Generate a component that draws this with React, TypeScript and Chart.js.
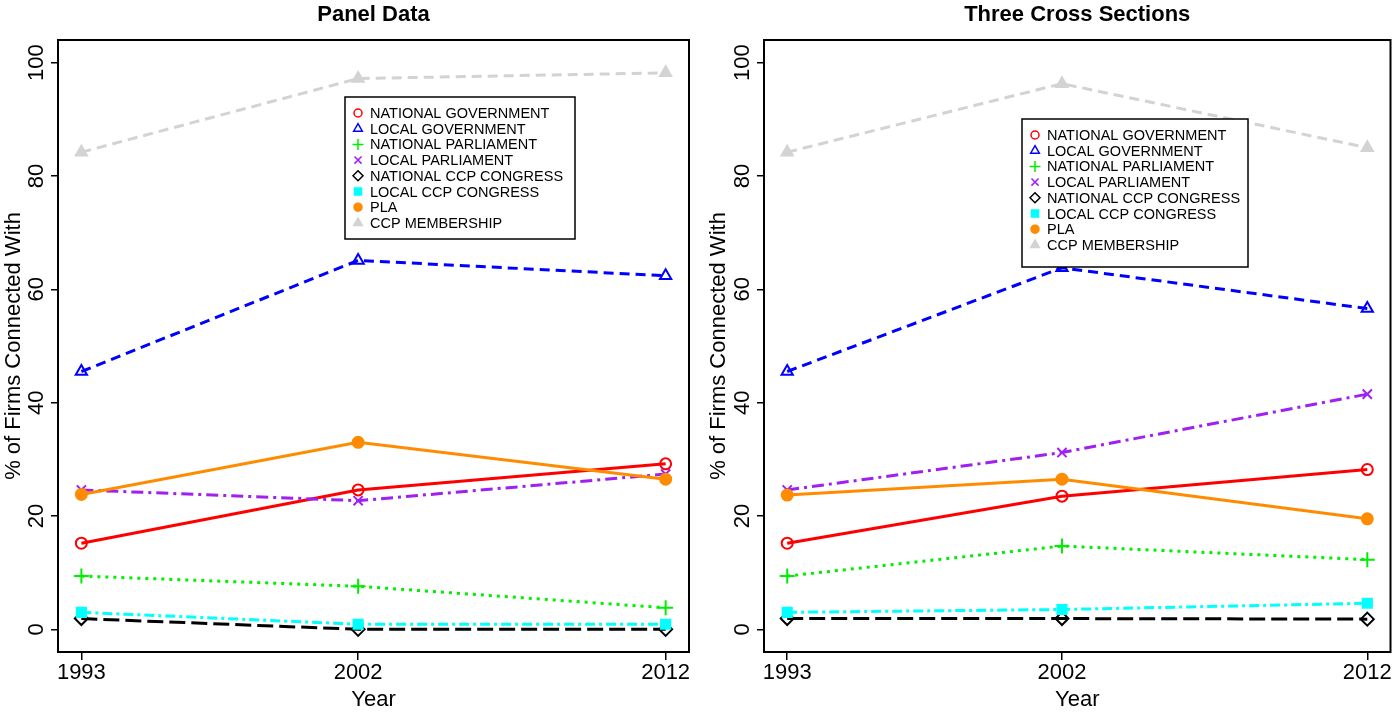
import React, { useEffect, useRef } from 'react';
import { Chart, registerables } from 'chart.js';
import { drawPoint } from 'chart.js/helpers';

Chart.register(...registerables);

// ---------------- DATA ----------------
const YEARS = [1993, 2002, 2012];
const X_TICKS = [1993, 2002, 2012];
const Y_TICKS = [0, 20, 40, 60, 80, 100];

const SERIES_LABELS = [
  'NATIONAL GOVERNMENT',
  'LOCAL GOVERNMENT',
  'NATIONAL PARLIAMENT',
  'LOCAL PARLIAMENT',
  'NATIONAL CCP CONGRESS',
  'LOCAL CCP CONGRESS',
  'PLA',
  'CCP MEMBERSHIP',
];

// Panel Data
const panelNationalGov = [15.2, 24.6, 29.2];
const panelLocalGov = [45.5, 65.1, 62.4];
const panelNationalParl = [9.4, 7.6, 3.8];
const panelLocalParl = [24.6, 22.7, 27.4];
const panelNationalCCP = [1.9, 0.0, 0.0];
const panelLocalCCP = [3.0, 0.9, 0.9];
const panelPLA = [23.8, 33.0, 26.5];
const panelCCPMember = [84.2, 97.2, 98.2];

// Three Cross Sections
const crossNationalGov = [15.2, 23.5, 28.2];
const crossLocalGov = [45.5, 63.8, 56.6];
const crossNationalParl = [9.4, 14.7, 12.3];
const crossLocalParl = [24.6, 31.2, 41.5];
const crossNationalCCP = [1.9, 1.9, 1.8];
const crossLocalCCP = [3.0, 3.5, 4.6];
const crossPLA = [23.7, 26.5, 19.5];
const crossCCPMember = [84.2, 96.3, 85.0];

const PANEL_VALUES = [
  panelNationalGov, panelLocalGov, panelNationalParl, panelLocalParl,
  panelNationalCCP, panelLocalCCP, panelPLA, panelCCPMember,
];
const CROSS_VALUES = [
  crossNationalGov, crossLocalGov, crossNationalParl, crossLocalParl,
  crossNationalCCP, crossLocalCCP, crossPLA, crossCCPMember,
];

// ---------------- STYLES ----------------
const FONT = 'Arial, "Liberation Sans", Helvetica, sans-serif';

const STYLES = [
  { color: '#FF0000', dash: [], point: 'circle', filled: false, r: 5.5, lr: 4 },
  { color: '#0000FF', dash: [10, 6], point: 'triangle', filled: false, r: 6.5, lr: 5 },
  { color: '#00EE00', dash: [3, 5], point: 'cross', filled: false, r: 7.5, lr: 5.5 },
  { color: '#A020F0', dash: [12, 5, 3, 5], point: 'crossRot', filled: false, r: 6.5, lr: 5 },
  { color: '#000000', dash: [16, 6], point: 'rectRot', filled: false, r: 6.5, lr: 5 },
  { color: '#00FFFF', dash: [10, 4, 3, 4], point: 'rect', filled: true, r: 6.5, lr: 5 },
  { color: '#FF8C00', dash: [], point: 'circle', filled: true, r: 5.5, lr: 4 },
  { color: '#D3D3D3', dash: [10, 6], point: 'triangle', filled: true, r: 6.5, lr: 5 },
];

function buildDatasets(values: number[][]) {
  return values.map((arr, i) => {
    const s = STYLES[i];
    return {
      label: SERIES_LABELS[i],
      data: YEARS.map((x, j) => ({ x, y: arr[j] })),
      borderColor: s.color,
      backgroundColor: s.filled ? s.color : 'rgba(0,0,0,0)',
      borderWidth: 3,
      borderDash: s.dash,
      pointStyle: s.point,
      pointRadius: s.r,
      pointBorderWidth: 2,
      pointBackgroundColor: s.filled ? s.color : 'rgba(255,255,255,0)',
      pointBorderColor: s.color,
      tension: 0,
      order: 10 - i,
      _legendRadius: s.lr,
      _filled: s.filled,
    } as any;
  });
}

const framePlugin = {
  id: 'rframe',
  afterDraw(chart: any, _args: any, opts: any) {
    const { ctx, chartArea } = chart;
    const yScale = chart.scales.y;
    const xScale = chart.scales.x;
    ctx.save();
    // box
    ctx.strokeStyle = '#000';
    ctx.lineWidth = 2;
    ctx.setLineDash([]);
    ctx.strokeRect(chartArea.left, chartArea.top, chartArea.right - chartArea.left, chartArea.bottom - chartArea.top);

    // rotated y tick labels
    ctx.fillStyle = '#000';
    ctx.font = `22px ${FONT}`;
    ctx.textAlign = 'center';
    ctx.textBaseline = 'middle';
    for (const t of yScale.ticks) {
      const py = yScale.getPixelForValue(t.value);
      ctx.save();
      ctx.translate(chartArea.left - 21, py);
      ctx.rotate(-Math.PI / 2);
      ctx.fillText(String(t.value), 0, 0);
      ctx.restore();
    }

    // x tick labels
    for (const t of xScale.ticks) {
      const px = xScale.getPixelForValue(t.value);
      ctx.fillText(String(t.value), px, chartArea.bottom + 21);
    }

    // title
    ctx.font = `bold 22px ${FONT}`;
    ctx.textAlign = 'center';
    ctx.textBaseline = 'middle';
    ctx.fillText(opts.title, (chartArea.left + chartArea.right) / 2, 15);

    // legend
    const lb = opts.legend;
    ctx.fillStyle = '#fff';
    ctx.fillRect(lb.x, lb.y, lb.w, lb.h);
    ctx.strokeStyle = '#000';
    ctx.lineWidth = 1.5;
    ctx.strokeRect(lb.x, lb.y, lb.w, lb.h);
    ctx.font = `14.5px ${FONT}`;
    ctx.textAlign = 'left';
    ctx.textBaseline = 'middle';
    chart.data.datasets.forEach((ds: any, i: number) => {
      const cy = lb.y + 16 + i * 15.7;
      const mx = lb.x + 13;
      ctx.save();
      ctx.setLineDash([]);
      ctx.strokeStyle = ds.borderColor;
      ctx.fillStyle = ds._filled ? ds.borderColor : 'rgba(0,0,0,0)';
      drawPoint(ctx, { pointStyle: ds.pointStyle, radius: ds._legendRadius, borderWidth: 2.2, rotation: 0 } as any, mx, cy);
      ctx.restore();
      ctx.fillStyle = '#000';
      ctx.fillText(ds.label, lb.x + 25, cy + 1);
    });
    ctx.restore();
  },
};

function Panel(props: { title: string; values: number[][]; left: number; width: number; padRight: number; yWidth: number; legend: any }) {
  const ref = useRef<HTMLCanvasElement | null>(null);
  useEffect(() => {
    if (!ref.current) return;
    const chart = new Chart(ref.current, {
      type: 'line',
      data: { datasets: buildDatasets(props.values) },
      plugins: [framePlugin as any],
      options: {
        animation: false,
        responsive: false,
        maintainAspectRatio: false,
        devicePixelRatio: 1,
        layout: { padding: { top: 40, right: props.padRight, left: 0, bottom: 0 } },
        plugins: {
          legend: { display: false },
          tooltip: { enabled: false },
          title: { display: false },
          rframe: { title: props.title, legend: props.legend },
        } as any,
        scales: {
          x: {
            type: 'linear',
            min: 1992.24,
            max: 2012.76,
            afterBuildTicks: (s: any) => { s.ticks = X_TICKS.map((v) => ({ value: v })); },
            afterFit: (s: any) => { s.height = 61; s.paddingLeft = 0; s.paddingRight = 0; },
            ticks: { display: false },
            grid: { display: true, drawOnChartArea: false, drawTicks: true, tickLength: 8, color: '#000', lineWidth: 1.5 },
            border: { display: false },
            title: { display: true, text: 'Year', color: '#000', font: { size: 22, family: FONT }, padding: 0 },
          },
          y: {
            type: 'linear',
            min: -4,
            max: 104,
            afterBuildTicks: (s: any) => { s.ticks = Y_TICKS.map((v) => ({ value: v })); },
            afterFit: (s: any) => { s.width = props.yWidth; s.paddingTop = 0; s.paddingBottom = 0; },
            ticks: { display: false },
            grid: { display: true, drawOnChartArea: false, drawTicks: true, tickLength: 7, color: '#000', lineWidth: 1.5 },
            border: { display: false },
            title: { display: true, text: '% of Firms Connected With', color: '#000', font: { size: 22, family: FONT }, padding: 1 },
          },
        },
      } as any,
    });
    return () => chart.destroy();
  }, []);
  return (
    <canvas
      ref={ref}
      width={props.width}
      height={713}
      style={{ position: 'absolute', left: props.left, top: 0, width: props.width, height: 713 }}
    />
  );
}

export default function App() {
  return (
    <div style={{ position: 'absolute', left: 0, top: 0, width: 1400, height: 713, background: '#fff', overflow: 'hidden' }}>
      <Panel title="Panel Data" values={PANEL_VALUES} left={0} width={705} padRight={16} yWidth={58}
        legend={{ x: 345, y: 97, w: 230, h: 142 }} />
      <Panel title="Three Cross Sections" values={CROSS_VALUES} left={705} width={695} padRight={5} yWidth={59}
        legend={{ x: 317, y: 119, w: 226, h: 148 }} />
    </div>
  );
}
